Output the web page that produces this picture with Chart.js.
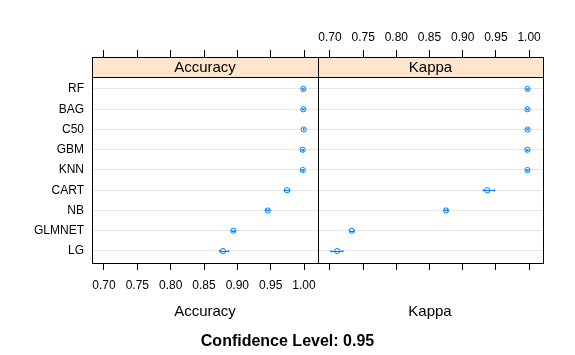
<!DOCTYPE html>
<html><head><meta charset="utf-8">
<script src="https://cdn.jsdelivr.net/npm/chart.js@4"></script>
<style>
html,body{margin:0;padding:0;background:#fff;}
#wrap{position:relative;width:575px;height:355px;font-family:"Liberation Sans",Arial,sans-serif;}
canvas{position:absolute;left:0;top:0;}
.t{position:absolute;text-align:center;color:#000;white-space:nowrap;}
</style></head>
<body><div id="wrap">
<canvas id="c1" width="575" height="355"></canvas>
<canvas id="c2" width="575" height="355"></canvas>
<div class="t" style="left:105px;width:200px;top:301px;line-height:20px;font-size:15px;">Accuracy</div>
<div class="t" style="left:330px;width:200px;top:301px;line-height:20px;font-size:15px;">Kappa</div>
<div class="t" style="left:0;width:575px;top:331px;line-height:20px;font-size:16px;font-weight:bold;">Confidence Level: 0.95</div>
</div>
<script>
const models = ["RF","BAG","C50","GBM","KNN","CART","NB","GLMNET","LG"];
const accuracy      = [0.999, 0.999, 0.9995, 0.998, 0.998, 0.9745, 0.9456, 0.894, 0.8785];
const accuracyLower = [0.998, 0.998, 0.999, 0.997, 0.997, 0.9705, 0.9436, 0.892, 0.8735];
const accuracyUpper = [1.000, 1.000, 1.000, 0.999, 0.999, 0.9785, 0.9476, 0.896, 0.8865];
const kappa      = [0.9976, 0.9976, 0.9978, 0.9975, 0.9975, 0.937, 0.875, 0.733, 0.711];
const kappaLower = [0.9966, 0.9966, 0.9968, 0.9965, 0.9965, 0.931, 0.873, 0.730, 0.7015];
const kappaUpper = [0.9986, 0.9986, 0.9988, 0.9985, 0.9985, 0.948, 0.877, 0.736, 0.7195];
const xTicks = [0.70, 0.75, 0.80, 0.85, 0.90, 0.95, 1.00];
const panelNames = ["Accuracy", "Kappa"];

const FONT = "'Liberation Sans', Arial, sans-serif";
const BLUE = "#0080ff";
const X_MIN = 0.682, X_MAX = 1.021;
const Y_MIN = -0.58, Y_MAX = 9.593;

function setXTicks(scale){ scale.ticks = xTicks.map(v => ({value: v})); }
function setYTicks(scale){ scale.ticks = models.map((m,i) => ({value: i+1})); }

function panelPlugin(name, lower, upper){
  return {
    id: 'panel_' + name,
    beforeDatasetsDraw(chart){
      const ctx = chart.ctx, xs = chart.scales.x, ys = chart.scales.y;
      ctx.save();
      ctx.strokeStyle = BLUE; ctx.lineWidth = 1;
      lower.forEach((lo, i) => {
        const y = Math.round(ys.getPixelForValue(i+1)) + 0.5;
        const x1 = xs.getPixelForValue(lo), x2 = xs.getPixelForValue(upper[i]);
        ctx.beginPath();
        ctx.moveTo(x1, y); ctx.lineTo(x2, y);
        ctx.moveTo(x1, y-1.5); ctx.lineTo(x1, y+1);
        ctx.moveTo(x2, y-1.5); ctx.lineTo(x2, y+1);
        ctx.stroke();
      });
      ctx.restore();
    },
    afterDraw(chart){
      const ctx = chart.ctx, a = chart.chartArea;
      const stripH = 20;
      ctx.save();
      ctx.fillStyle = '#ffe5cc';
      ctx.fillRect(a.left, a.top, a.right - a.left, stripH);
      ctx.strokeStyle = '#000'; ctx.lineWidth = 1;
      ctx.beginPath();
      ctx.moveTo(a.left, a.top + stripH + 0.5); ctx.lineTo(a.right, a.top + stripH + 0.5);
      ctx.stroke();
      ctx.strokeRect(Math.round(a.left) + 0.5, Math.round(a.top) + 0.5, Math.round(a.right - a.left), Math.round(a.bottom - a.top));
      ctx.fillStyle = '#000';
      ctx.font = "15px " + FONT;
      ctx.textAlign = 'center'; ctx.textBaseline = 'middle';
      ctx.fillText(name, (a.left + a.right)/2, a.top + stripH/2 + 1);
      ctx.restore();
    }
  };
}

function makeChart(id, name, values, lower, upper, first){
  const data = values.map((v,i) => ({x: v, y: i+1}));
  const tickFont = {family: FONT, size: 12};
  const xLabelled = {
    type: 'linear', min: X_MIN, max: X_MAX,
    afterBuildTicks: setXTicks,
    grid: {drawOnChartArea: false, drawTicks: true, tickLength: 7, color: '#000', lineWidth: 1},
    border: {display: false},
    ticks: {color: '#000', font: tickFont, padding: first ? 8 : 5, maxRotation: 0, autoSkip: false,
            callback: v => Number(v).toFixed(2)}
  };
  const xBlank = {
    type: 'linear', min: X_MIN, max: X_MAX,
    afterBuildTicks: setXTicks,
    grid: {drawOnChartArea: false, drawTicks: true, tickLength: 7, color: '#000', lineWidth: 1},
    border: {display: false},
    ticks: {font: tickFont, autoSkip: false, maxRotation: 0, callback: () => ''}
  };
  const scales = {};
  if (first) {
    scales.x = Object.assign({}, xLabelled, {position: 'bottom', afterFit: s => { s.height = 92; }});
    scales.x2 = Object.assign({}, xBlank, {position: 'top', afterFit: s => { s.height = 57; }});
  } else {
    scales.x = Object.assign({}, xLabelled, {position: 'top', afterFit: s => { s.height = 57; }});
    scales.x2 = Object.assign({}, xBlank, {position: 'bottom', afterFit: s => { s.height = 92; }});
  }
  scales.y = {
    type: 'linear', reverse: true, min: Y_MIN, max: Y_MAX, position: 'left',
    afterBuildTicks: setYTicks,
    afterFit: s => { s.width = first ? 92 : 0; },
    grid: {drawOnChartArea: true, drawTicks: false, color: '#e6e6e6', lineWidth: 1},
    border: {display: false},
    ticks: {display: first, color: '#000', font: tickFont, padding: 8, autoSkip: false,
            callback: v => models[v-1] || ''}
  };
  return new Chart(document.getElementById(id), {
    type: 'scatter',
    data: {datasets: [{
      data: data,
      pointStyle: 'circle', pointRadius: 2.6, pointHoverRadius: 2.6,
      borderColor: BLUE, backgroundColor: 'rgba(0,0,0,0)', borderWidth: 1
    }]},
    options: {
      responsive: false, animation: false, devicePixelRatio: 1,
      layout: {padding: first ? {left: 0, right: 257, top: 0, bottom: 0} : {left: 318, right: 32, top: 0, bottom: 0}},
      plugins: {legend: {display: false}, tooltip: {enabled: false}},
      scales: scales
    },
    plugins: [panelPlugin(name, lower, upper)]
  });
}

makeChart('c1', panelNames[0], accuracy, accuracyLower, accuracyUpper, true);
makeChart('c2', panelNames[1], kappa, kappaLower, kappaUpper, false);
</script>
</body></html>
